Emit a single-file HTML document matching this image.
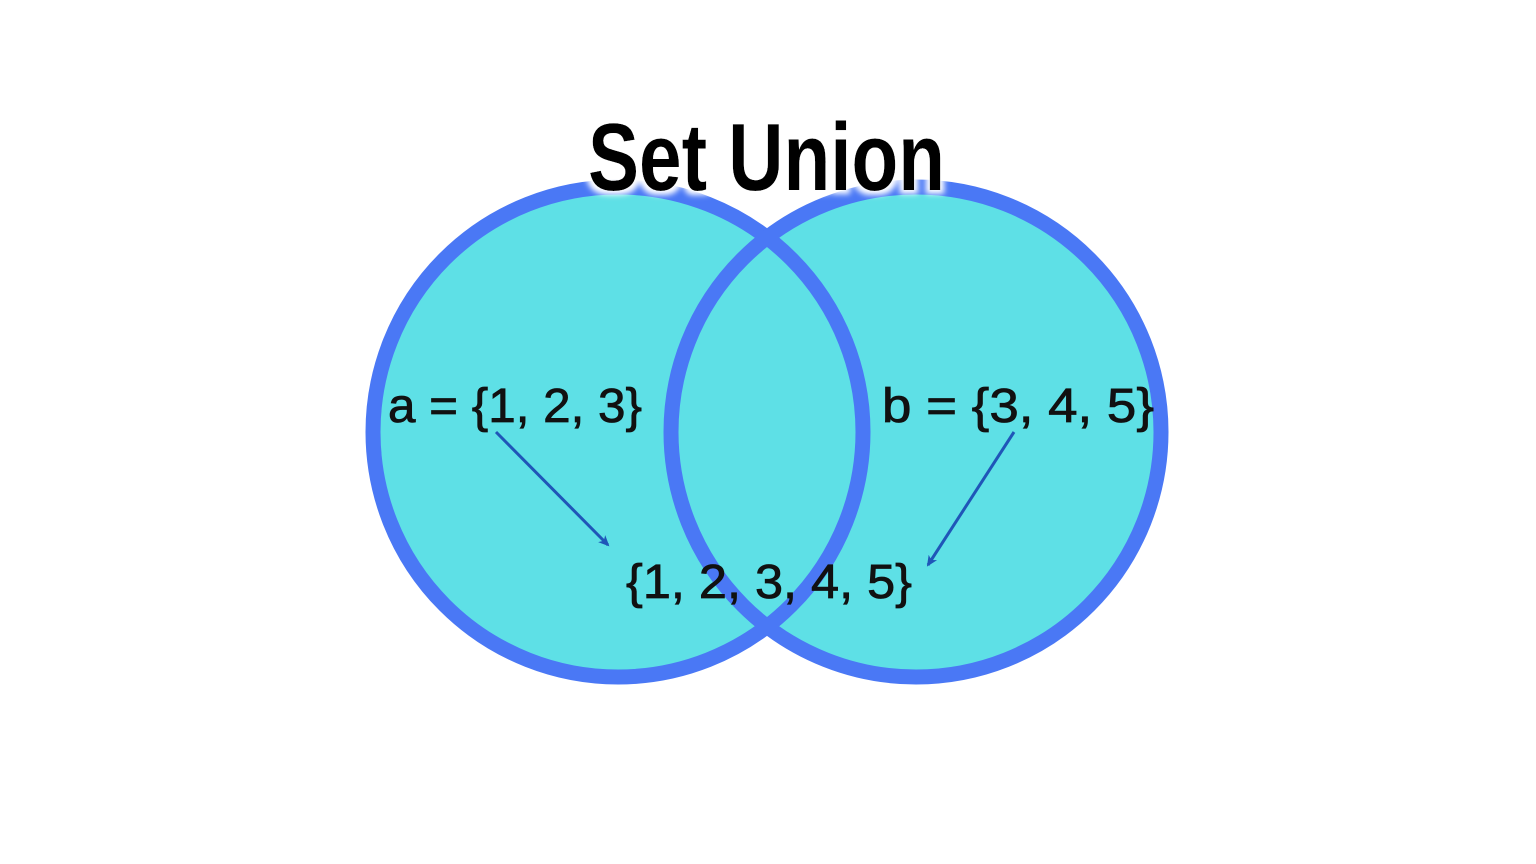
<!DOCTYPE html>
<html><head><style>html,body{margin:0;padding:0;background:#fff;}svg{display:block}</style></head>
<body>
<svg width="1536" height="864" viewBox="0 0 1536 864" xmlns="http://www.w3.org/2000/svg">
<defs>
<marker id="ah" markerWidth="12" markerHeight="12" refX="9" refY="6" orient="auto" markerUnits="userSpaceOnUse">
<path d="M0,1 L11,6 L0,11 L3,6 z" fill="#1f56b8"/>
</marker>
<filter id="glow" x="-10%" y="-20%" width="120%" height="140%">
<feMorphology operator="dilate" radius="4" in="SourceAlpha" result="d"/>
<feGaussianBlur in="d" stdDeviation="3" result="b"/>
<feFlood flood-color="#fff"/>
<feComposite in2="b" operator="in" result="w"/>
<feMerge><feMergeNode in="w"/><feMergeNode in="SourceGraphic"/></feMerge>
</filter>
</defs>
<circle cx="618" cy="432" r="245" fill="#5ee0e6"/>
<circle cx="916" cy="432" r="245" fill="#5ee0e6"/>
<circle cx="618" cy="432" r="245" fill="none" stroke="#4a78f5" stroke-width="15"/>
<circle cx="916" cy="432" r="245" fill="none" stroke="#4a78f5" stroke-width="15"/>
<g font-family="Liberation Sans, sans-serif" font-size="48" fill="#111" stroke="#111" stroke-width="0.8">
<text x="388" y="422" textLength="254" lengthAdjust="spacingAndGlyphs">a = {1, 2, 3}</text>
<text x="882" y="422" textLength="272" lengthAdjust="spacingAndGlyphs">b = {3, 4, 5}</text>
<text x="626" y="598" textLength="286" lengthAdjust="spacingAndGlyphs">{1, 2, 3, 4, 5}</text>
</g>
<line x1="496" y1="432" x2="608" y2="545" stroke="#1f56b8" stroke-width="3" marker-end="url(#ah)"/>
<line x1="1014" y1="432" x2="928" y2="565" stroke="#1f56b8" stroke-width="3" marker-end="url(#ah)"/>
<text x="588" y="190" font-family="Liberation Sans Narrow, Liberation Sans, sans-serif" font-weight="bold" font-size="96" fill="#000" textLength="357" lengthAdjust="spacingAndGlyphs" filter="url(#glow)">Set Union</text>
</svg>
</body></html>
